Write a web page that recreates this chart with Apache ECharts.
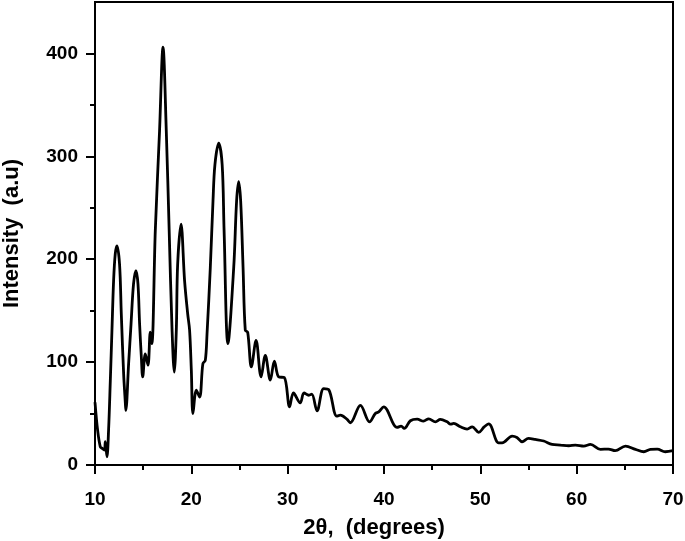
<!DOCTYPE html>
<html>
<head>
<meta charset="utf-8">
<script src="https://cdn.jsdelivr.net/npm/echarts@6/dist/echarts.min.js"></script>
<style>
html,body{margin:0;padding:0;background:#fff;}
#chart{width:685px;height:541px;}
</style>
</head>
<body>
<div id="chart"></div>
<script>
var twoTheta = [10.0,10.27,10.55,10.76,10.97,11.07,11.24,11.41,11.59,11.76,11.93,12.1,12.28,12.55,12.73,12.97,13.15,13.2,13.49,13.74,14.0,14.25,14.46,14.63,14.81,14.95,15.22,15.5,15.74,15.9,16.26,16.7,17.06,17.4,17.7,18.0,18.23,18.44,18.58,18.93,19.3,19.62,19.82,20.0,20.17,20.52,20.86,21.2,21.45,21.63,21.97,22.25,22.45,22.84,23.2,23.4,23.8,24.4,24.7,24.91,25.12,25.37,25.6,25.85,26.23,26.72,27.24,27.68,28.2,28.62,29.07,29.65,30.2,30.6,31.3,31.7,32.2,32.5,33.05,33.74,34.26,35.1,35.47,36.17,36.5,37.55,38.5,39.1,39.45,39.97,41.36,41.78,42.1,42.74,43.44,44.1,44.64,45.34,45.85,46.55,46.9,47.24,47.93,48.63,49.15,49.83,50.4,50.87,51.9,52.26,53.3,53.8,54.34,55.0,55.7,56.58,57.45,58.3,59.18,59.87,60.74,61.43,62.47,63.3,64.0,65.07,66.1,66.97,67.66,68.36,69.2,70.0];
var intensity = [61,34,17.7,16,14.5,22.6,8,34,82,131,179,205,213,195,147,89,60,53,98.5,137,176,189,176,137,105,85.6,108,97,129,118,228,324.6,406,324.6,228,131,90.4,131,195,234,179,147,131,92,50,72.7,66,98.5,101.7,127.6,192,256.8,292,312.7,292,228,118,192,256.8,275.5,256.8,192,131,129,95.3,121,85.6,106.6,82.4,101,85.6,85,56.5,70,60.4,70,67.8,68.8,52.6,74.3,73.3,47.5,48.4,44.3,41,58,42,50,51.6,56.5,36.5,37.8,35.5,43,44.6,42.6,44.9,42,44.3,42,39.7,40.4,37.1,34.9,37.1,31.7,37,40,21.6,21.6,28.1,26.8,22.6,25.9,24.9,23.3,20,19.4,18.7,19.4,18.4,20,15.2,15.5,13.9,18.4,15.2,12.9,15.2,15.5,12.9,13.9];
var yMajorTicks = [0,100,200,300,400];
var yMinorTicks = [50,150,250,350];

var points = twoTheta.map(function(x,i){return [x,intensity[i]];});
var font = 'Liberation Sans, Arial, sans-serif';
var chart = echarts.init(document.getElementById('chart'));
chart.setOption({
  animation:false,
  backgroundColor:'#fff',
  grid:{left:95,right:12,top:2,bottom:76,containLabel:false,outerBoundsMode:'none',show:true,borderColor:'#000',borderWidth:2,backgroundColor:'transparent'},
  xAxis:{
    type:'value',min:10,max:70,interval:10,
    name:'2θ,  (degrees)',nameLocation:'middle',nameGap:52,
    nameTextStyle:{fontFamily:font,fontWeight:'bold',fontSize:22,color:'#000',padding:[0,20,0,0]},
    axisLine:{show:true,lineStyle:{color:'#000',width:2}},
    axisTick:{show:true,inside:false,length:9,lineStyle:{color:'#000',width:2}},
    minorTick:{show:true,splitNumber:2,length:5,lineStyle:{color:'#000',width:2}},
    splitLine:{show:false},
    axisLabel:{fontFamily:font,fontWeight:'bold',fontSize:19,color:'#000',margin:25}
  },
  yAxis:[{
    type:'value',min:0,max:450,
    name:'Intensity  (a.u)',nameLocation:'middle',nameGap:72,
    nameTextStyle:{fontFamily:font,fontWeight:'bold',fontSize:22,color:'#000'},
    axisLine:{show:true,lineStyle:{color:'#000',width:2}},
    axisTick:{show:true,inside:false,length:9,customValues:yMajorTicks,lineStyle:{color:'#000',width:2}},
    axisLabel:{fontFamily:font,fontWeight:'bold',fontSize:19,color:'#000',margin:17,customValues:yMajorTicks},
    splitLine:{show:false}
  },{
    type:'value',min:0,max:450,position:'left',
    axisLine:{show:false},
    axisTick:{show:true,inside:false,length:5,customValues:yMinorTicks,lineStyle:{color:'#000',width:2}},
    axisLabel:{show:false},
    splitLine:{show:false}
  }],
  series:[{
    type:'line',data:points,yAxisIndex:0,
    symbol:'none',smooth:0.35,
    lineStyle:{color:'#000',width:2.8}
  }]
});
</script>
</body>
</html>
